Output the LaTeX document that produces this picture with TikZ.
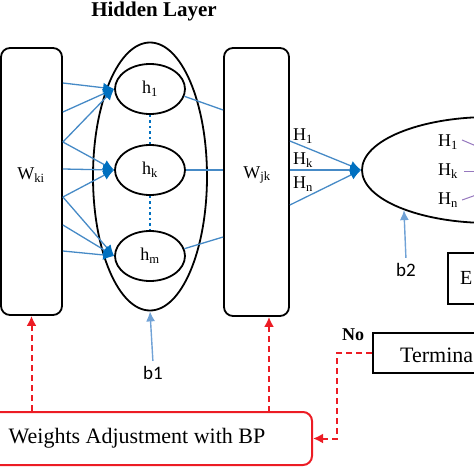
\documentclass[tikz,border=0pt]{standalone}
\usepackage{fontspec}
\setmainfont{Liberation Serif}
\newfontfamily\biasfont{Carlito}
\usepackage{tikz}
\usetikzlibrary{shapes}
\usetikzlibrary{arrows.meta}
\definecolor{lineblue}{RGB}{70,138,198}
\definecolor{tipblue}{RGB}{0,112,192}
\definecolor{biasblue}{RGB}{112,162,214}
\definecolor{fbred}{RGB}{236,28,36}
\definecolor{outlink}{RGB}{150,120,190}

\begin{document}
\begin{tikzpicture}[x = 1pt, y = -1pt,
  box/.style = {draw, line width = 1.8pt, rounded corners = 9pt, inner sep = 0pt},
  neuron/.style = {draw, ellipse, line width = 1.8pt, inner sep = 0pt,
                   minimum width = 70pt, minimum height = 50pt, font = \fontsize{18}{21}\selectfont},
  link/.style = {draw = lineblue, line width = 1.3pt},
  feed/.style = {link, -{Latex[length = 11pt, width = 10pt, color = tipblue]}},
  bias/.style = {draw = biasblue, line width = 1.4pt, -{Latex[length = 10pt, width = 9pt]}},
  fback/.style = {draw = fbred, line width = 2pt, dash pattern = on 6pt off 4pt,
                  -{Latex[length = 10pt, width = 10pt]}},
  txt/.style = {font = \fontsize{18}{22}\selectfont}]
\useasboundingbox (0, 0) rectangle (474, 474);
\clip (0, 0) rectangle (474, 474);
% boxes and layers
\node[box, minimum width = 61pt, minimum height = 267pt] (wki) at (31.5, 181.5) {};
\node[box, minimum width = 65pt, minimum height = 268pt] (wjk) at (256.5, 182) {};
\node[draw, ellipse, line width = 1.8pt, inner sep = 0pt,
      minimum width = 114pt, minimum height = 268pt] (hidden) at (150, 176.5) {};
\node[draw, ellipse, line width = 1.8pt, inner sep = 0pt,
      minimum width = 256pt, minimum height = 106pt] (outlayer) at (490, 170) {};
\node[font = \bfseries\fontsize{21}{25}\selectfont, inner sep = 1pt] (title) at (154, 11) {Hidden Layer};
\node[txt] (wkilab) at (31, 175) {W\textsubscript{ki}};
\node[txt] (wjklab) at (257, 175) {W\textsubscript{jk}};
% hidden neurons
\node[neuron] (h1) at (150, 89) {h\textsubscript{1}};
\node[neuron] (hk) at (150, 170) {h\textsubscript{k}};
\node[neuron] (hm) at (150, 256) {h\textsubscript{m}};
\draw[tipblue, line width = 2.2pt, dash pattern = on 2.5pt off 3pt] (h1.south) -- (hk.north);
\draw[tipblue, line width = 2.2pt, dash pattern = on 2.5pt off 3pt] (hk.south) -- (hm.north);
\foreach \y/\t in {83/h1, 112/h1, 142/h1, 142/hk, 169/hk, 197/hk, 197/hm, 225/hm, 251/hm}
  \draw[feed] (wki.east |- 0,\y) -- (\t.west);
\draw[link] (h1.-12) -- (wjk.west |- 0,110);
\draw[link] (hk.east) -- (wjk.west |- hk.east);
\draw[link] (hm.12) -- (wjk.west |- 0,237);
% output layer
\foreach \y in {141, 170, 205}
  \draw[feed] (wjk.east |- 0,\y) -- (outlayer.west);
\node[txt, anchor = west, inner sep = 1pt] (hh1) at (292, 136) {H\textsubscript{1}};
\node[txt, anchor = west, inner sep = 1pt] (hhk) at (292, 160) {H\textsubscript{k}};
\node[txt, anchor = west, inner sep = 1pt] (hhn) at (292, 184) {H\textsubscript{n}};
\node[txt, inner sep = 1pt] (o1) at (448, 142) {H\textsubscript{1}};
\node[txt, inner sep = 1pt] (ok) at (448, 171) {H\textsubscript{k}};
\node[txt, inner sep = 1pt] (on) at (448, 200) {H\textsubscript{n}};
\draw[outlink, line width = 1pt] (o1.east) ++(3, -2) -- ++(14, 6);
\draw[outlink, line width = 1pt] (ok.east) ++(5, 0) -- ++(14, 0);
\draw[outlink, line width = 1pt] (on.east) ++(3, 0) -- ++(14, -5);
% biases
\node[font = \biasfont\fontsize{19}{22}\selectfont] (b1) at (153, 373) {b1};
\node[font = \biasfont\fontsize{19}{22}\selectfont] (b2) at (406, 270) {b2};
\draw[bias, shorten <= 2pt] (b1.north) -- (hidden.south);
\draw[bias, shorten <= 2pt] (b2.north) -- (outlayer.205.5);
% error and termination
\node[draw, line width = 1.8pt, anchor = north west, minimum width = 60pt,
      minimum height = 51pt] (err) at (447, 252) {};
\node[font = \fontsize{20}{24}\selectfont, anchor = west, inner sep = 1pt] (errtxt) at (459, 277.5) {E};
\node[draw, line width = 1.8pt, anchor = west, minimum width = 130pt,
      minimum height = 40pt] (term) at (372, 353) {};
\node[font = \fontsize{22}{26}\selectfont, anchor = west, inner sep = 0pt] (termtxt) at (400, 355) {Termina};
\node[font = \bfseries\fontsize{18}{22}\selectfont] (no) at (353, 335) {No};
% weight adjustment
\node[draw = fbred, line width = 2pt, rounded corners = 9pt, minimum width = 352pt,
      minimum height = 53pt] (wadj) at (136, 438.5) {};
\node[font = \fontsize{22}{26}\selectfont] (wadjtxt) at (137, 438.5) {Weights Adjustment with BP};
\coordinate (fb2) at (269, 412);
\draw[fback] (term.west) -- ++(-35, 0) |- (wadj.east);
\draw[fback] (wadj.north -| wki.south) -- (wki.south);
\draw[fback] (fb2) -- (fb2 |- wjk.south);
\end{tikzpicture}
\end{document}
